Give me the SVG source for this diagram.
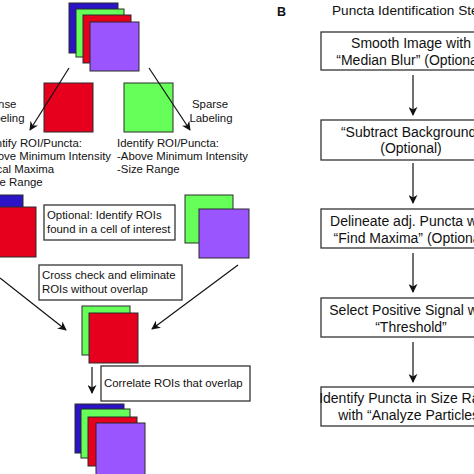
<svg xmlns="http://www.w3.org/2000/svg" width="474" height="474" viewBox="0 0 474 474">
<style>
.sq{stroke:#2a2a2a;stroke-width:1}
.b{fill:#2b14c6}.g{fill:#66ff5a}.r{fill:#e6001e}.p{fill:#9b55ff}
.box{fill:#fff;stroke:#333;stroke-width:1.3}
.t{font-family:"Liberation Sans",Arial,sans-serif;font-size:11.4px;fill:#111}
.tb{font-family:"Liberation Sans",Arial,sans-serif;font-size:14px;fill:#111;text-anchor:middle}
.ln{stroke:#111;stroke-width:1.2;fill:none;marker-end:url(#ah)}
</style>
<defs>
<marker id="ah" viewBox="0 0 10 10" refX="9" refY="5" markerWidth="9" markerHeight="9" orient="auto" markerUnits="userSpaceOnUse">
<path d="M0,0 L10,5 L0,10 L3,5 Z" fill="#111"/>
</marker>
</defs>
<rect width="474" height="474" fill="#fff"/>
<g id="stack-top">
<rect class="sq b" x="69" y="3" width="49" height="50"/>
<rect class="sq g" x="76" y="9" width="48" height="48"/>
<rect class="sq r" x="83" y="15" width="48" height="48"/>
<rect class="sq p" x="90" y="22" width="49" height="49"/>
</g>
<g id="red-single"><rect class="sq r" x="44" y="83" width="49" height="49"/></g>
<g id="green-single"><rect class="sq g" x="124" y="83" width="49" height="49"/></g>
<g id="dense-label">
<text class="t" text-anchor="middle" x="0" y="108">Dense</text>
<text class="t" text-anchor="middle" x="3" y="122">Labeling</text>
</g>
<g id="sparse-label">
<text class="t" text-anchor="middle" x="210" y="108">Sparse</text>
<text class="t" text-anchor="middle" x="211" y="122">Labeling</text>
</g>
<g id="left-criteria">
<text class="t" x="-20" y="147">Identify ROI/Puncta:</text>
<text class="t" x="-20" y="160">-Above Minimum Intensity</text>
<text class="t" x="-20" y="173">-Local Maxima</text>
<text class="t" x="-20" y="186">-Size Range</text>
</g>
<g id="right-criteria">
<text class="t" x="117" y="147">Identify ROI/Puncta:</text>
<text class="t" x="117" y="160">-Above Minimum Intensity</text>
<text class="t" x="117" y="173">-Size Range</text>
</g>
<g id="stack-left">
<rect class="sq b" x="-26" y="195" width="49" height="50"/>
<rect class="sq r" x="-13" y="207" width="49" height="50"/>
</g>
<g id="stack-right">
<rect class="sq g" x="185" y="195" width="48" height="48"/>
<rect class="sq p" x="199" y="209" width="50" height="49"/>
</g>
<g id="optional-box">
<rect class="box" x="44" y="205" width="131" height="35"/>
<text class="t" x="47" y="219">Optional: Identify ROIs</text>
<text class="t" x="47" y="233">found in a cell of interest</text>
</g>
<g id="cross-box">
<rect class="box" x="39" y="265" width="143" height="35"/>
<text class="t" x="42" y="279">Cross check and eliminate</text>
<text class="t" x="42" y="293">ROIs without overlap</text>
</g>
<g id="stack-merged">
<rect class="sq g" x="82" y="306" width="48" height="49"/>
<rect class="sq r" x="89" y="313" width="49" height="50"/>
</g>
<g id="correlate-box">
<rect class="box" x="101" y="366" width="149" height="35"/>
<text class="t" x="104" y="387">Correlate ROIs that overlap</text>
</g>
<g id="stack-final">
<rect class="sq b" x="75" y="404" width="49" height="49"/>
<rect class="sq g" x="81" y="409" width="49" height="49"/>
<rect class="sq r" x="88" y="417" width="49" height="49"/>
<rect class="sq p" x="96" y="423" width="49" height="55"/>
</g>
<g id="panel-b-title">
<text x="277" y="16" style="font-family:'Liberation Sans',Arial,sans-serif;font-size:12.5px;font-weight:bold;fill:#111">B</text>
<text x="332" y="15" style="font-family:'Liberation Sans',Arial,sans-serif;font-size:13.6px;fill:#111">Puncta Identification Steps</text>
</g>
<g id="step1">
<rect class="box" x="321" y="32" width="180" height="38"/>
<text class="tb" x="411" y="48">Smooth Image with</text>
<text class="tb" x="411" y="65">“Median Blur” (Optional)</text>
</g>
<g id="step2">
<rect class="box" x="321" y="120" width="180" height="40"/>
<text class="tb" x="411" y="137">“Subtract Background”</text>
<text class="tb" x="411" y="153">(Optional)</text>
</g>
<g id="step3">
<rect class="box" x="321" y="209" width="180" height="39"/>
<text class="tb" x="411" y="226">Delineate adj. Puncta with</text>
<text class="tb" x="411" y="243">“Find Maxima” (Optional)</text>
</g>
<g id="step4">
<rect class="box" x="321" y="298" width="180" height="39"/>
<text class="tb" x="411" y="315">Select Positive Signal with</text>
<text class="tb" x="411" y="332">“Threshold”</text>
</g>
<g id="step5">
<rect class="box" x="321" y="387" width="180" height="39"/>
<text class="tb" x="411" y="403">Identify Puncta in Size Range</text>
<text class="tb" x="411" y="420">with “Analyze Particles”</text>
</g>
<g id="connectors">
<line class="ln" x1="69" y1="68" x2="30" y2="130"/>
<line class="ln" x1="149" y1="68" x2="190" y2="130"/>
<line class="ln" x1="0" y1="278" x2="66" y2="330"/>
<line class="ln" x1="238" y1="265" x2="152" y2="329"/>
<line class="ln" x1="92" y1="367" x2="92" y2="393"/>
<line class="ln" x1="413" y1="75" x2="413" y2="115"/>
<line class="ln" x1="413" y1="163" x2="413" y2="203"/>
<line class="ln" x1="413" y1="253" x2="413" y2="292"/>
<line class="ln" x1="413" y1="342" x2="413" y2="382"/>
</g>
</svg>
